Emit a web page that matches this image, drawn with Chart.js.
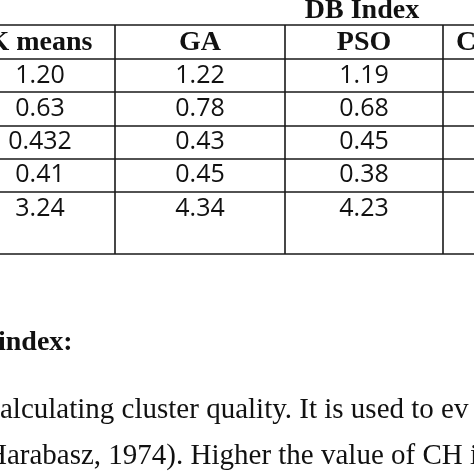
<!DOCTYPE html>
<html>
<head>
<meta charset="utf-8">
<script src="https://cdn.jsdelivr.net/npm/chart.js@4"></script>
<style>
  html, body { margin: 0; padding: 0; background: #fff; }
  #wrap { width: 474px; height: 474px; }
</style>
</head>
<body>
<div id="wrap"><canvas id="myChart"></canvas></div>
<script>
// Table data
const groupTitle = "DB Index";
const methods = ["K means", "GA", "PSO", "C"];
const kmeans = ["1.20", "0.63", "0.432", "0.41", "3.24"];
const ga = ["1.22", "0.78", "0.43", "0.45", "4.34"];
const pso = ["1.19", "0.68", "0.45", "0.38", "4.23"];
const cCol = ["", "", "", "", ""];
const heading = "index:";
const paragraph = [
    "alculating cluster quality. It is used to ev",
    "Harabasz, 1974). Higher the value of CH i"
];

// Layout (in scale units, scale == page pixels)
const colLines = [115, 285, 443];
const rowLines = [25, 59, 92, 126, 159, 192, 254];
const colCenters = [40, 200, 364, 466];
const rowCenters = [43, 76, 109, 142, 175, 209];

const tablePlugin = {
    id: 'tablePlugin',
    afterDraw(chart) {
        const ctx = chart.ctx;
        const x = chart.scales.x, y = chart.scales.y;
        ctx.save();
        ctx.fillStyle = '#fff';
        ctx.fillRect(0, 0, chart.width, chart.height);
        ctx.strokeStyle = '#1a1a1a';
        ctx.lineWidth = 1.6;
        ctx.beginPath();
        rowLines.forEach(r => {
            ctx.moveTo(x.getPixelForValue(0), y.getPixelForValue(r));
            ctx.lineTo(x.getPixelForValue(474), y.getPixelForValue(r));
        });
        colLines.forEach(c => {
            ctx.moveTo(x.getPixelForValue(c), y.getPixelForValue(rowLines[0]));
            ctx.lineTo(x.getPixelForValue(c), y.getPixelForValue(rowLines[rowLines.length - 1]));
        });
        ctx.stroke();

        ctx.fillStyle = '#111';
        ctx.textAlign = 'center';
        ctx.textBaseline = 'middle';
        ctx.font = 'bold 28px "Liberation Serif"';
        ctx.fillText(groupTitle, x.getPixelForValue(362), y.getPixelForValue(11));
        methods.forEach((m, i) => {
            ctx.fillText(m, x.getPixelForValue(colCenters[i]), y.getPixelForValue(rowCenters[0]));
        });

        ctx.font = '25px "Open Sans"';
        [kmeans, ga, pso, cCol].forEach((col, i) => {
            col.forEach((v, j) => {
                ctx.fillText(v, x.getPixelForValue(colCenters[i]), y.getPixelForValue(rowCenters[j + 1]));
            });
        });

        ctx.textAlign = 'left';
        ctx.font = 'bold 28px "Liberation Serif"';
        ctx.fillText(heading, x.getPixelForValue(-2), y.getPixelForValue(343));
        ctx.font = '29px "Liberation Serif"';
        ctx.fillText(paragraph[0], x.getPixelForValue(0), y.getPixelForValue(410));
        ctx.fillText(paragraph[1], x.getPixelForValue(-14), y.getPixelForValue(456));
        ctx.restore();
    }
};

const config = {
    type: 'scatter',
    data: { datasets: [{ data: [] }] },
    options: {
        responsive: true,
        maintainAspectRatio: false,
        animation: false,
        layout: { padding: 0 },
        plugins: { legend: { display: false }, tooltip: { enabled: false } },
        scales: {
            x: { type: 'linear', min: 0, max: 474, display: false },
            y: { type: 'linear', min: 0, max: 474, reverse: true, display: false }
        }
    },
    plugins: [tablePlugin]
};

var myChart = new Chart(document.getElementById('myChart'), config);
</script>
</body>
</html>
